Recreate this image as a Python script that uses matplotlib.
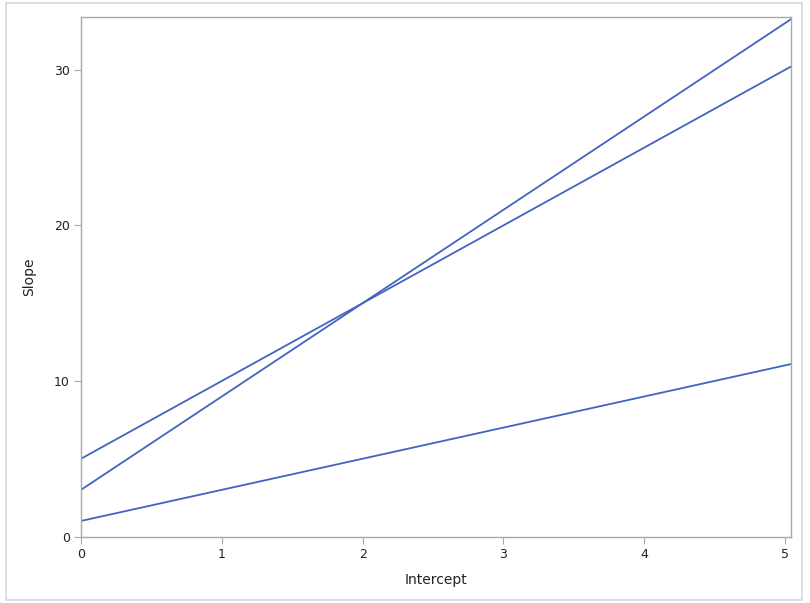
import matplotlib
matplotlib.use("Agg")
import matplotlib.pyplot as plt
import numpy as np
from matplotlib.patches import Rectangle

intercepts = [1, 3, 5]
slopes = [2, 6, 5]
x_range = [0, 5.043]
xticks = [0, 1, 2, 3, 4, 5]
yticks = [0, 10, 20, 30]

fig = plt.figure(figsize=(8.1, 6.03), dpi=100)
fig.patches.append(Rectangle((6/810, 3/603), 796/810, 597/603, transform=fig.transFigure,
                             fill=False, edgecolor='#d4d7e3', linewidth=1.2))
ax = fig.add_axes([81/810, (603-536.5)/603, 710/810, 519.5/603])

xs = np.array(x_range)
for a, b in zip(intercepts, slopes):
    ax.plot(xs, a + b * xs, color='#4163C1', linewidth=1.3)

ax.set_xlim(x_range)
ax.set_ylim(0, 33.4)
ax.set_xticks(xticks)
ax.set_yticks(yticks)
for s in ax.spines.values():
    s.set_color('#a8a8a8')
    s.set_linewidth(1)
ax.tick_params(direction='out', length=5, color='#a8a8a8', labelsize=9, labelcolor='#222222', pad=3)
ax.set_xlabel('Intercept', fontsize=10, color='#222222', labelpad=9)
ax.set_ylabel('Slope', fontsize=10, color='#222222', labelpad=13)

fig.savefig('out.png', dpi=100)
